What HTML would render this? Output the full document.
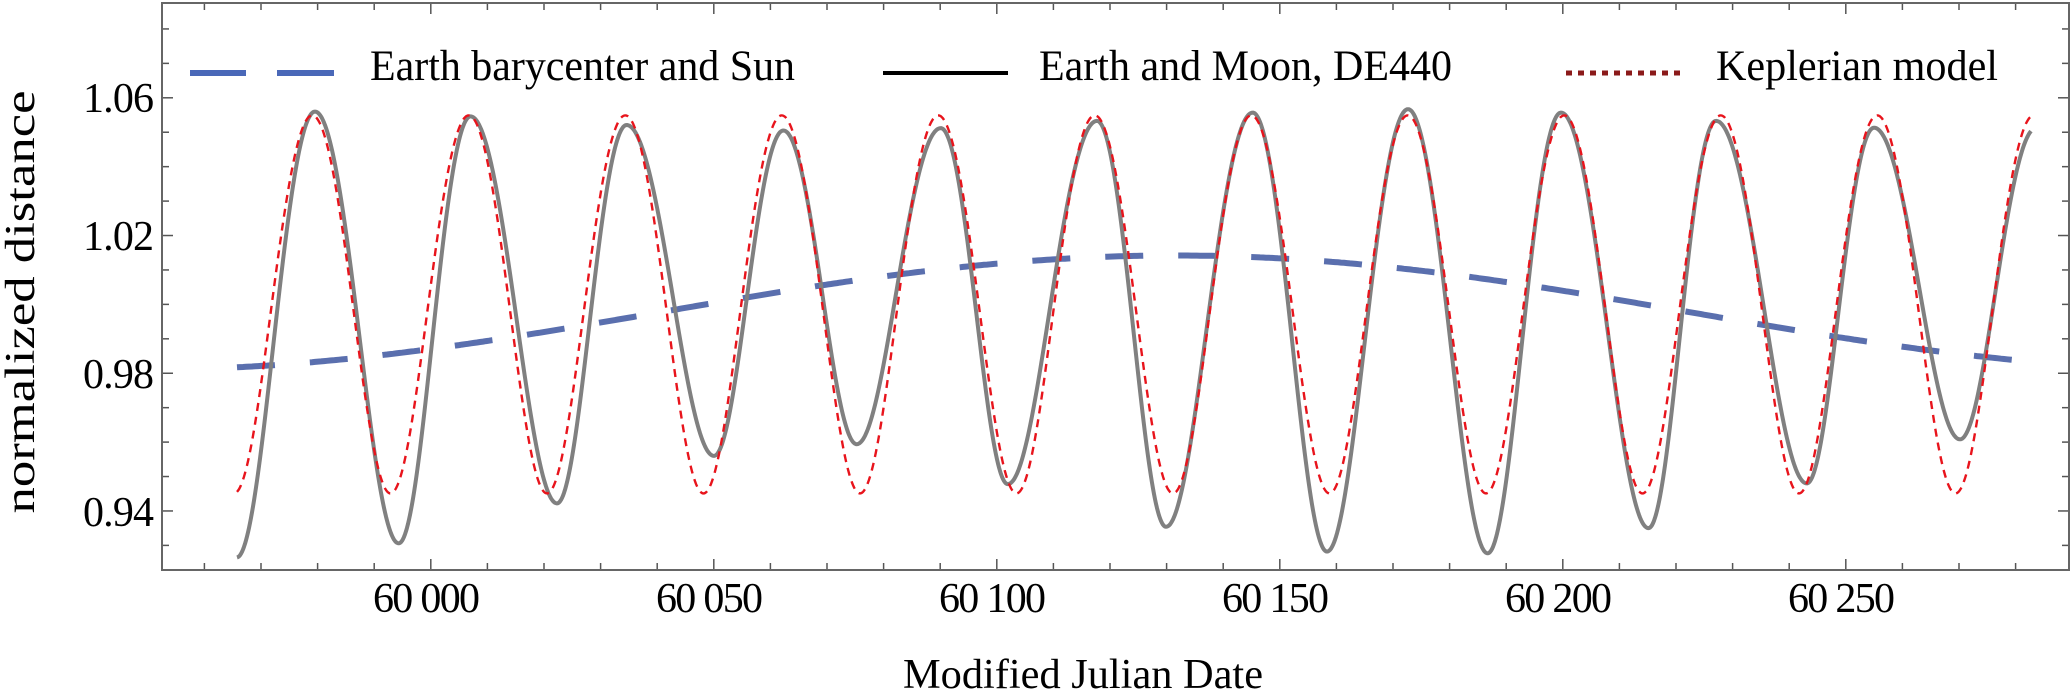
<!DOCTYPE html>
<html><head><meta charset="utf-8"><style>
html,body{margin:0;padding:0;background:#fff;}
svg{display:block;}
text{font-family:"Liberation Serif","Times New Roman",Times,serif;fill:#000;}
</style></head><body>
<svg id="s" width="2071" height="694" viewBox="0 0 2071 694" xmlns="http://www.w3.org/2000/svg" font-family="Liberation Serif, Times New Roman, serif">
<rect x="0" y="0" width="2071" height="694" fill="#fff"/>
<g id="ticks" stroke="#555" stroke-width="1.5"></g>
<path id="blue" fill="none" stroke="#5a6fae" stroke-width="6" stroke-dasharray="38 35"/>
<path id="gray" fill="none" stroke="#808080" stroke-width="4" stroke-linejoin="round"/>
<path id="red" fill="none" stroke="#e8141c" stroke-width="2.4" stroke-dasharray="8 6"/>
<rect x="162" y="3" width="1907" height="567" fill="none" stroke="#666" stroke-width="2"/>
<line x1="190" y1="73" x2="246" y2="73" stroke="#4a68b8" stroke-width="6"/>
<line x1="277" y1="73" x2="334" y2="73" stroke="#4a68b8" stroke-width="6"/>
<text x="370" y="80" font-size="43" textLength="425" lengthAdjust="spacingAndGlyphs">Earth barycenter and Sun</text>
<line x1="883" y1="73" x2="1008" y2="73" stroke="#000" stroke-width="4"/>
<text x="1039" y="80" font-size="43" textLength="413" lengthAdjust="spacingAndGlyphs">Earth and Moon, DE440</text>
<line x1="1566" y1="73" x2="1684" y2="73" stroke="#8b1a1a" stroke-width="5" stroke-dasharray="6 6"/>
<text x="1716" y="80" font-size="43" textLength="282" lengthAdjust="spacingAndGlyphs">Keplerian model</text>
<g font-size="42" lengthAdjust="spacingAndGlyphs">
<text x="83" y="112" textLength="71">1.06</text>
<text x="83" y="250" textLength="71">1.02</text>
<text x="83" y="388" textLength="71">0.98</text>
<text x="83" y="526" textLength="71">0.94</text>
</g>
<g font-size="42" lengthAdjust="spacingAndGlyphs">
<text x="373" y="612" textLength="107">60 000</text>
<text x="656" y="612" textLength="107">60 050</text>
<text x="939" y="612" textLength="107">60 100</text>
<text x="1222" y="612" textLength="107">60 150</text>
<text x="1505" y="612" textLength="107">60 200</text>
<text x="1788" y="612" textLength="107">60 250</text>
</g>
<text x="903" y="688" font-size="42" textLength="360" lengthAdjust="spacingAndGlyphs">Modified Julian Date</text>
<text transform="translate(34,302) rotate(-90)" font-size="42" text-anchor="middle" textLength="423" lengthAdjust="spacingAndGlyphs">normalized distance</text>
</svg>
<script>
(function(){
var Y=function(v){return 97.8+(1.06-v)*3443;};
var X=function(t){return 430.8+(t-60000)*5.66;};
var T=function(x){return 60000+(x-430.8)/5.66;};
function kepE(M,e){var E=M;for(var i=0;i<15;i++)E=M+e*Math.sin(E);return E;}
var x0=237,x1=2031,d,i,x;
d="";
for(x=x0;x<=x1;x+=3){var t=T(x);var v=0.99762+0.01658*Math.cos(2*Math.PI*(t-60131.5)/365.25);d+=(d?"L":"M")+x.toFixed(1)+","+Y(v).toFixed(1);}
document.getElementById("blue").setAttribute("d",d);
d="";
for(x=x0;x<=x1;x+=1){var M=2*Math.PI*(x-234)/156.5;var E=kepE(M,0.0549);var r=1-0.0549*Math.cos(E);d+=(d?"L":"M")+x.toFixed(1)+","+Y(r).toFixed(1);}
document.getElementById("red").setAttribute("d",d);
var ex=[[236.7,.9265],[315,1.056],[398.7,.9306],[470.5,1.0546],[557,.9422],[626.6,1.0521],[714,.956],[783.4,1.0505],[856.7,.9594],[940.8,1.0512],[1007.8,.9478],[1097,1.0533],[1166,.9354],[1252.7,1.0557],[1327,.9282],[1408,1.0567],[1487.6,.9277],[1561,1.0557],[1648.5,.935],[1716,1.0533],[1806.8,.948],[1874,1.0513],[1960,.9608],[2036,1.0512]];
d="";
for(x=x0;x<=x1;x+=1){
 for(i=0;i<ex.length-2&&x>ex[i+1][0];i++);
 var a=ex[i],b=ex[i+1];var s=(x-a[0])/(b[0]-a[0]);if(s<0)s=0;
 var v;
 if(a[1]<b[1]){var E=kepE(Math.PI*s,0.055);var f=(1-Math.cos(E))/2;v=a[1]+(b[1]-a[1])*f;}
 else{var E=kepE(Math.PI+Math.PI*s,0.055);var f=(1-Math.cos(E))/2;v=b[1]+(a[1]-b[1])*f;}
 d+=(d?"L":"M")+x.toFixed(1)+","+Y(v).toFixed(1);
}
document.getElementById("gray").setAttribute("d",d);
var g=document.getElementById("ticks"),h="";
for(var k=59960;k<=60290;k+=10){x=X(k);if(x<163||x>2068)continue;var L=(k%50==0)?11:7;
 h+='<line x1="'+x+'" y1="570" x2="'+x+'" y2="'+(570-L)+'"/>';
 h+='<line x1="'+x+'" y1="3" x2="'+x+'" y2="'+(3+L)+'"/>';}
for(var j=93;j<=108;j++){var v=j/100;var y=Y(v);if(y<4||y>569)continue;var L=(j%4==2)?11:7;
 h+='<line x1="162" y1="'+y+'" x2="'+(162+L)+'" y2="'+y+'"/>';
 h+='<line x1="2069" y1="'+y+'" x2="'+(2069-L)+'" y2="'+y+'"/>';}
g.innerHTML=h;
})();
</script>
</body></html>
